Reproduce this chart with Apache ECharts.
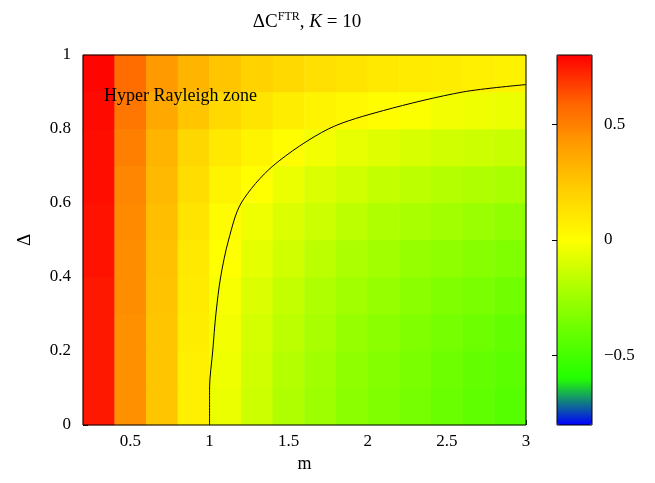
<!DOCTYPE html>
<html>
<head>
<meta charset="utf-8">
<script src="https://cdn.jsdelivr.net/npm/echarts@6/dist/echarts.min.js"></script>
<style>html,body{margin:0;padding:0;background:#fff}#chart{width:655px;height:483px}</style>
</head>
<body>
<div id="chart"></div>
<script>
// cell centres of the heatmap (m across, Delta up)
var mCells = ['0.3','0.5','0.7','0.9','1.1','1.3','1.5','1.7','1.9','2.1','2.3','2.5','2.7','2.9'];
var deltaCells = ['0.05','0.15','0.25','0.35','0.45','0.55','0.65','0.75','0.85','0.95'];
// values, one row per Delta cell
var rows = [
  [0.75,0.45,0.25,0.07,-0.05,-0.13,-0.2,-0.25,-0.3,-0.33,-0.36,-0.39,-0.42,-0.45],
  [0.75,0.45,0.25,0.07,-0.04,-0.12,-0.19,-0.24,-0.29,-0.32,-0.35,-0.38,-0.41,-0.43],
  [0.75,0.45,0.25,0.08,-0.03,-0.11,-0.17,-0.22,-0.27,-0.3,-0.33,-0.36,-0.38,-0.41],
  [0.75,0.46,0.26,0.09,-0.02,-0.09,-0.15,-0.2,-0.24,-0.27,-0.3,-0.33,-0.35,-0.37],
  [0.76,0.46,0.27,0.1,0,-0.07,-0.12,-0.17,-0.21,-0.24,-0.27,-0.29,-0.31,-0.33],
  [0.76,0.47,0.28,0.12,0.02,-0.04,-0.09,-0.13,-0.17,-0.2,-0.22,-0.24,-0.26,-0.28],
  [0.77,0.48,0.3,0.15,0.05,0,-0.05,-0.09,-0.12,-0.15,-0.17,-0.19,-0.2,-0.22],
  [0.77,0.5,0.32,0.18,0.1,0.05,0.01,-0.03,-0.06,-0.08,-0.1,-0.12,-0.13,-0.14],
  [0.78,0.53,0.37,0.25,0.17,0.12,0.08,0.05,0.03,0.01,-0.01,-0.03,-0.04,-0.05],
  [0.79,0.56,0.42,0.32,0.25,0.2,0.17,0.14,0.12,0.1,0.09,0.08,0.07,0.06]
];
// zero contour (boundary of the hyper Rayleigh zone)
var contour = [[1,0],[1.0,0.1],[1.02,0.2],[1.04,0.3],[1.07,0.4],[1.12,0.5],[1.2,0.6],[1.4,0.7],[1.75,0.8],[2.1,0.85],[2.6,0.9],[3,0.92]];
var xTicks = [0.5,1,1.5,2,2.5,3];
var barTicks = [-0.5,0,0.5];

var heat = [];
rows.forEach(function(r, j) {
  r.forEach(function(v, i) { heat.push([i, j, v]); });
});

var serif = 'Liberation Serif';
var G = {left: 83, right: 129, top: 55, bottom: 58};
var chart = echarts.init(document.getElementById('chart'));
chart.setOption({
  animation: false,
  textStyle: {fontFamily: serif},
  title: {
    text: '{a|ΔC}{s|FTR}{a|, }{i|K}{a| = 10}',
    left: 302, top: 6, textAlign: 'center',
    textStyle: {fontWeight: 'normal', rich: {
      a: {fontFamily: serif, fontSize: 19, fontWeight: 'normal', color: '#000'},
      i: {fontFamily: serif, fontSize: 19, fontWeight: 'normal', fontStyle: 'italic', color: '#000'},
      s: {fontFamily: serif, fontSize: 12, fontWeight: 'normal', color: '#000', verticalAlign: 'top', padding: [0,0,10,0]}
    }}
  },
  grid: [
    Object.assign({}, G),
    Object.assign({}, G),
    {left: 557, width: 35, top: 55, bottom: 58}
  ],
  xAxis: [
    {gridIndex: 0, type: 'category', data: mCells, show: false},
    {gridIndex: 1, type: 'value', min: 0.2, max: 3,
     name: 'm', nameLocation: 'middle', nameGap: 28, nameTextStyle: {fontSize: 18, color: '#000'},
     axisLine: {show: false}, splitLine: {show: false},
     axisTick: {show: true, inside: true, customValues: xTicks, lineStyle: {color: '#000'}},
     axisLabel: {customValues: xTicks, fontSize: 17, color: '#000', margin: 8}},
    {gridIndex: 2, type: 'value', show: false}
  ],
  yAxis: [
    {gridIndex: 0, type: 'category', data: deltaCells, show: false},
    {gridIndex: 1, type: 'value', min: 0, max: 1, interval: 0.2,
     name: 'Δ', nameLocation: 'middle', nameGap: 48, nameTextStyle: {fontSize: 19, color: '#000'},
     axisLine: {show: false}, splitLine: {show: false},
     axisTick: {show: true, inside: true, lineStyle: {color: '#000'}},
     axisLabel: {fontSize: 17, color: '#000', margin: 12}},
    {gridIndex: 2, type: 'value', min: -0.8, max: 0.8, position: 'right',
     axisLine: {show: false}, splitLine: {show: false},
     axisTick: {show: true, inside: true, customValues: barTicks, lineStyle: {color: '#000'}},
     axisLabel: {customValues: barTicks, fontSize: 17, color: '#000', margin: 12,
       formatter: function(v) { return v < 0 ? '−' + Math.abs(v) : String(v); }}}
  ],
  visualMap: {
    type: 'continuous', min: -0.8, max: 0.8, seriesIndex: 0, calculable: false,
    left: 557, top: 55, padding: 0, itemWidth: 35, itemHeight: 370, showLabel: false,
    inRange: {color: ['#0000ff','#22ff00','#66ff00','#b0ff00','#ffff00','#ffd200','#ffa000','#ff6000','#ff0000']}
  },
  graphic: [
    {type: 'rect', shape: {x: 83, y: 55, width: 443, height: 370}, style: {fill: null, stroke: '#000', lineWidth: 1}, z: 100},
    {type: 'rect', shape: {x: 557, y: 55, width: 35, height: 370}, style: {fill: null, stroke: '#000', lineWidth: 1}, z: 100},
    {type: 'text', left: 104, top: 87, style: {text: 'Hyper Rayleigh zone', fontFamily: serif, fontSize: 18, fill: '#000'}, z: 100}
  ],
  series: [
    {type: 'heatmap', xAxisIndex: 0, yAxisIndex: 0, data: heat},
    {type: 'line', xAxisIndex: 1, yAxisIndex: 1, data: contour, smooth: 0.3, showSymbol: false,
     lineStyle: {color: '#000', width: 1}, z: 10}
  ]
});
</script>
</body>
</html>
